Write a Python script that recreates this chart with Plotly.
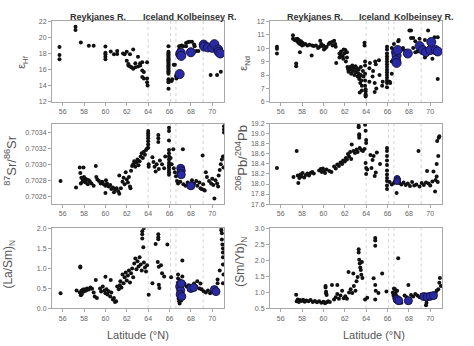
import plotly.graph_objects as go

# ---------------- data (latitude °N, value) ----------------
hf_lat = [55.7, 55.7, 55.7, 57.2, 57.2, 57.7, 58.45, 58.9,
          60.0, 60.0, 60.0, 60.0, 60.0, 60.5, 60.8, 61.1, 61.1, 61.65, 61.8, 62.0, 62.0,
          62.15, 62.15, 62.3, 62.3, 62.45, 62.6, 62.6, 62.8, 62.8, 63.05, 63.05, 63.25, 63.25,
          63.45, 63.45, 63.45, 63.6, 63.6, 63.9, 63.9, 63.9, 63.95,
          65.9, 65.9, 65.9, 65.9, 65.9, 65.9, 65.9, 65.9, 65.9, 65.9, 65.9, 65.9,
          65.9, 65.9, 65.9, 65.9, 65.9, 65.9, 65.9, 65.9, 65.9, 65.9, 65.9, 65.9,
          66.2, 66.25, 66.4, 66.5, 66.6, 66.65, 66.9, 66.9, 67.1, 67.15, 67.3, 67.55, 67.55,
          67.7, 67.85, 68.1, 68.3, 68.35, 68.5, 68.7, 68.95, 69.85, 70.45, 70.8, 70.2]
hf_val = [18.8, 17.8, 17.3, 21.3, 20.9, 19.35, 18.95, 18.95,
          18.85, 18.1, 17.9, 17.6, 17.3, 18.25, 17.9, 18.3, 17.95, 18.0, 17.9, 18.2, 17.1,
          16.7, 16.5, 17.9, 16.4, 16.3, 18.5, 16.1, 16.8, 16.3, 17.6, 16.4, 16.8, 16.5,
          16.9, 15.9, 15.1, 15.7, 14.9, 16.9, 14.9, 14.45, 14.05,
          18.9, 18.2, 18.05, 17.9, 17.75, 17.6, 17.45, 17.3, 17.15, 17.0, 16.85, 16.7,
          16.55, 16.4, 16.25, 16.1, 15.95, 15.8, 15.65, 15.5, 14.8, 14.6, 14.45, 13.65,
          14.6, 14.8, 16.6, 16.6, 15.2, 14.9, 18.9, 18.5, 18.95, 19.0, 18.9, 19.3, 18.9,
          19.4, 19.45, 19.45, 19.1, 18.9, 18.3, 18.3, 18.95, 15.35, 15.35, 15.75, 18.6]
hf_blue_lat = [66.95, 67.0, 67.05, 67.1, 68.0, 69.2, 69.25, 69.6, 70.0, 70.2, 70.55, 70.6, 70.75]
hf_blue_val = [15.45, 17.9, 18.1, 17.7, 18.15, 19.1, 18.85, 18.75, 18.7, 19.15, 18.5, 18.2, 18.0]

nd_lat = [55.65, 55.65, 55.65, 57.15, 57.15, 57.45, 57.45,
          57.3, 57.4, 57.5, 57.55, 57.6, 57.65, 57.7, 57.8, 57.8, 57.9, 57.95, 58.0, 58.05, 58.15,
          58.3, 58.5, 58.7, 58.9, 58.95, 59.1, 59.3, 59.5, 59.65, 59.7, 59.8, 59.9, 60.0, 60.05,
          60.2, 60.3, 60.5, 60.6, 60.8, 60.85, 61.0, 61.1, 61.15,
          61.2, 61.5, 61.5, 61.6, 61.65, 61.8, 61.85, 61.9, 61.95, 62.05, 62.1, 62.2, 62.2, 62.25,
          62.3, 62.35, 62.5, 62.55, 62.6, 62.7, 62.75, 62.8, 62.9, 62.95, 63.0, 63.1, 63.15, 63.2,
          63.3, 63.3, 63.35, 63.4, 63.4, 63.45, 63.5, 63.5, 63.55, 63.6, 63.6, 63.7, 63.75,
          63.85, 63.85, 63.9, 63.9, 63.9, 63.9, 63.9, 63.95, 63.95, 63.95, 63.95, 63.95,
          64.3, 64.3, 64.35, 64.6, 64.65, 64.8, 64.8, 64.85, 64.9, 64.95, 65.2, 65.25, 65.5, 65.55,
          65.95, 65.95, 65.95, 65.95, 65.95, 65.95, 65.95, 65.95, 65.95, 65.95, 65.95, 65.95,
          65.95, 65.95, 65.95,
          66.2, 66.25, 66.4, 66.4, 66.4, 66.6, 66.6, 66.65, 67.0, 67.05, 67.4, 67.45, 67.7,
          68.05, 68.2, 68.2, 68.4, 68.4, 68.6, 68.6, 68.8, 69.0, 69.5, 69.5, 69.8, 70.2, 70.2,
          70.4, 70.7, 70.7]
nd_val = [10.1, 9.95, 9.6, 10.95, 10.7, 8.85, 8.65,
          10.6, 10.65, 10.55, 10.7, 10.5, 10.4, 10.6, 10.3, 9.7, 10.5, 10.35, 10.2, 10.4, 10.25,
          10.3, 10.2, 10.25, 9.45, 10.2, 10.15, 10.2, 10.0, 10.1, 10.55, 10.3, 10.15, 10.2, 9.9,
          10.0, 10.1, 10.3, 10.4, 10.45, 10.2, 10.55, 10.3, 10.1,
          8.9, 9.3, 9.6, 9.5, 9.75, 9.4, 9.2, 9.9, 9.6, 9.85, 9.0, 9.7, 9.3, 8.6,
          8.45, 8.25, 8.6, 8.4, 8.1, 8.7, 8.3, 8.55, 8.0, 8.3, 8.65, 8.2, 8.5, 7.9,
          8.4, 8.1, 7.7, 7.9, 6.7, 7.4, 8.6, 8.0, 7.6, 6.85, 7.2, 8.3, 7.9,
          10.4, 10.2, 9.0, 8.7, 8.1, 7.6, 7.2, 6.95, 6.8, 6.6, 6.5, 6.4,
          8.5, 7.5, 8.9, 7.9, 8.3, 6.75, 7.4, 9.0, 8.8, 7.0, 9.1, 8.0, 7.2, 7.5,
          10.1, 9.9, 9.6, 9.4, 9.2, 9.0, 8.8, 8.6, 8.4, 8.2, 8.0, 7.8,
          7.6, 7.4, 7.1,
          7.5, 7.4, 10.0, 9.0, 8.1, 10.3, 9.6, 9.9, 10.5, 10.6, 9.9, 10.0, 9.8,
          11.3, 11.3, 10.75, 10.75, 10.0, 9.7, 10.5, 9.75, 10.7, 10.6, 9.3, 11.3, 10.6, 9.2,
          10.8, 10.8, 7.7]
nd_blue_lat = [66.8, 66.85, 66.8, 66.85, 66.95, 67.9, 69.0, 69.3, 69.6, 70.0, 70.1, 70.5, 70.7]
nd_blue_val = [9.7, 9.45, 9.1, 8.9, 9.85, 9.6, 10.15, 9.85, 9.7, 9.85, 10.45, 9.85, 9.75]

sr_lat = [55.8, 57.25,
          57.6, 57.65, 57.7, 57.75, 57.85, 57.9, 57.95, 58.0, 58.05, 58.1, 58.15, 58.25, 58.35,
          58.45, 58.55, 58.7, 58.9,
          59.1, 59.15, 59.25, 59.4, 59.55, 59.7, 59.85, 60.0, 60.0, 60.05, 60.15, 60.3, 60.45,
          60.55, 60.7, 60.8, 60.9, 61.05, 61.2, 61.3, 61.3, 61.45,
          61.6, 61.7, 61.8, 61.9, 62.0, 62.1, 62.2, 62.3, 62.35, 62.4, 62.5,
          62.6, 62.7, 62.8, 62.9, 63.0, 63.1, 63.2, 63.3, 63.4, 63.5, 63.6, 63.7, 63.8, 63.9,
          64.0, 64.0, 64.0, 64.0, 64.0, 64.0, 64.0, 64.05, 64.05,
          64.4, 64.5, 64.6, 64.7, 64.8, 64.95, 64.95, 64.95, 65.0, 65.1, 65.3, 65.5, 65.6,
          65.95, 65.95, 65.95, 65.95, 65.95, 65.95, 65.95, 65.95, 65.95, 65.95, 65.95, 65.95, 65.95,
          66.1, 66.2, 66.35, 66.4, 66.5, 66.6, 66.7, 66.8, 67.0, 67.25, 67.3, 67.5, 67.7,
          68.1, 68.3, 68.5, 68.6, 68.8, 68.9, 69.0, 69.1, 69.15, 69.2, 69.3,
          69.4, 69.5, 69.7, 69.9, 70.0, 70.1, 70.2, 70.3, 70.45, 70.55, 70.6, 70.7, 70.8, 70.9,
          71.0, 71.05, 71.1, 71.1, 71.1]
sr_val = [0.70279, 0.70271,
          0.70296, 0.70289, 0.70276, 0.70283, 0.70278, 0.70281, 0.70296, 0.70284, 0.70279, 0.70282,
          0.70277, 0.70281, 0.70275, 0.70280, 0.70278, 0.70276, 0.70273,
          0.70298, 0.70284, 0.70281, 0.70279, 0.70276, 0.70278, 0.70275, 0.70273, 0.70264, 0.70280,
          0.70276, 0.70272, 0.70274, 0.70269, 0.70271, 0.70265, 0.70268, 0.70270, 0.70266, 0.70263,
          0.70286, 0.70270,
          0.70278, 0.70283, 0.70275, 0.70290, 0.70281, 0.70277, 0.70284, 0.70272, 0.70270, 0.70292,
          0.70298,
          0.70300, 0.70304, 0.70297, 0.70302, 0.70306, 0.70299, 0.70304, 0.70310, 0.70314, 0.70308,
          0.70316, 0.70312, 0.70318, 0.70320,
          0.70342, 0.70339, 0.70336, 0.70333, 0.70329, 0.70325, 0.70321, 0.70300, 0.70297,
          0.70309, 0.70303, 0.70297, 0.70291, 0.70300, 0.70337, 0.70333, 0.70328, 0.70294, 0.70305,
          0.70300, 0.70295, 0.70310,
          0.70346, 0.70342, 0.70330, 0.70318, 0.70314, 0.70310, 0.70306, 0.70302, 0.70299, 0.70296,
          0.70293, 0.70290, 0.70287,
          0.70308, 0.70300, 0.70319, 0.70295, 0.70290, 0.70285, 0.70279, 0.70276, 0.70278, 0.70319,
          0.70275, 0.70273, 0.70277,
          0.70280, 0.70276, 0.70279, 0.70273, 0.70277, 0.70270, 0.70269, 0.70311, 0.70275, 0.70268,
          0.70267,
          0.70290, 0.70284, 0.70279, 0.70276, 0.70282, 0.70274, 0.70257, 0.70280, 0.70276, 0.70272,
          0.70286, 0.70293, 0.70300, 0.70306, 0.70310, 0.70296, 0.70348, 0.70344, 0.70340]
sr_blue_lat = [67.05, 67.1, 67.05, 67.1, 68.0]
sr_blue_val = [0.70295, 0.70292, 0.70289, 0.70287, 0.70273]

pb_lat = [55.65,
          57.2, 57.5, 57.65, 57.6, 57.75, 57.85, 57.95, 58.05, 58.2, 58.35, 58.5, 58.65, 58.8,
          58.95, 59.1,
          59.6, 59.75, 59.85, 59.95, 60.05, 60.15, 60.3, 60.55, 60.75,
          61.0, 61.15, 61.3, 61.45, 61.6, 61.75, 61.85, 62.0, 62.1, 62.2,
          62.3, 62.4, 62.5, 62.6, 62.65, 62.8, 62.95, 63.1, 63.2,
          63.3, 63.3, 63.35, 63.35, 63.35, 63.4, 63.55, 63.7, 63.85, 63.9, 63.95, 64.0, 64.0,
          63.95, 64.0, 64.0, 64.1,
          64.4, 64.5, 64.6, 64.7, 64.8, 64.9, 65.0, 65.3,
          65.95, 65.95, 65.95, 65.95, 65.95, 65.95, 65.95, 65.95, 65.95, 65.95, 65.95,
          66.2, 66.4, 66.6, 66.7, 66.85, 67.1, 67.3, 67.5, 67.7, 67.9, 68.1, 68.3, 68.5, 68.7,
          68.9, 69.0, 69.2, 69.4, 69.6, 69.7, 69.85, 70.0, 70.2, 70.3, 70.45, 70.5, 70.6, 70.6,
          70.65, 70.7, 70.75, 70.8, 70.85]
pb_val = [18.32,
          18.14, 18.66, 18.02, 18.17, 18.12, 18.19, 18.15, 18.22, 18.13, 18.18, 18.21, 18.17, 18.22,
          18.24, 18.21,
          18.27, 18.30, 18.24, 18.31, 18.27, 18.22, 18.29, 18.26, 18.24,
          18.35, 18.31, 18.39, 18.36, 18.43, 18.40, 18.47, 18.45, 18.52, 18.49,
          18.60, 18.55, 18.64, 18.50, 18.79, 18.66, 18.62, 18.69, 18.64,
          19.16, 19.13, 18.99, 18.96, 18.92, 18.72, 18.68, 18.66, 18.70, 19.18, 19.06, 18.88, 18.82,
          18.42, 18.32, 18.20, 18.29,
          18.58, 18.32, 18.48, 18.56, 18.16, 18.23, 18.63, 18.40,
          18.72, 18.66, 18.56, 18.47, 18.38, 18.27, 18.19, 18.12, 18.06, 17.97, 17.90,
          18.04, 17.99, 18.02, 18.06, 17.82, 18.02, 17.99, 18.03, 17.98, 18.01, 17.96, 18.04, 17.97,
          17.99,
          18.66, 17.95, 18.02, 17.98, 18.03, 18.26, 18.01, 17.97, 18.05, 18.25, 17.85, 18.08, 18.15,
          18.40, 18.86, 18.04, 18.56, 18.92, 18.95]
pb_blue_lat = [66.9, 66.95, 66.9]
pb_blue_val = [18.11, 18.08, 18.05]

la_lat = [55.8, 57.3, 57.65, 57.65,
          57.6, 57.7, 57.75, 57.8, 57.9, 58.0, 58.1, 58.2, 58.3, 58.45, 58.6, 58.75, 58.9, 59.0,
          59.1, 59.2,
          59.5, 59.6, 59.75, 59.9, 60.0, 60.0, 60.1, 60.2, 60.3, 60.45, 60.5, 60.55, 60.7, 60.8,
          60.9, 61.0,
          61.1, 61.25, 61.35, 61.4, 61.5, 61.6, 61.7, 61.8, 61.9, 62.0, 62.1, 62.2, 62.3, 62.4,
          62.5, 62.6,
          62.7, 62.8, 62.9, 63.0, 63.1, 63.2, 63.3, 63.4, 63.45, 63.45, 63.45, 63.55, 63.6, 63.6,
          63.7, 63.8, 63.9,
          64.05, 64.4, 64.7, 64.9, 64.95, 64.95, 64.95, 65.0, 65.0, 65.05, 65.2, 65.3, 65.5, 65.8,
          66.15,
          66.8, 66.8, 66.8, 66.85, 66.85, 66.85, 66.85, 66.9, 66.95, 67.0, 67.1, 67.2, 67.2,
          67.4, 67.6, 67.8, 68.3, 68.5, 68.6, 68.8, 68.9, 69.0, 69.2, 69.4, 69.6, 69.8, 70.0,
          70.3, 70.5, 70.5,
          70.7, 70.85, 70.85, 70.9, 70.9, 70.95, 71.0, 71.0, 71.0, 71.0, 71.05, 71.0]
la_val = [0.38, 0.45, 1.05, 1.02,
          0.40, 0.33, 0.44, 0.36, 0.47, 0.42, 0.48, 0.45, 0.50, 0.47, 0.52, 0.49, 0.40, 0.30,
          0.71, 0.26,
          0.50, 0.42, 0.55, 0.45, 0.79, 0.38, 0.48, 0.35, 0.43, 0.30, 0.71, 0.40, 0.22, 0.26,
          0.16, 0.18,
          0.55, 0.48, 0.58, 0.68, 0.52, 0.85, 0.63, 0.78, 0.90, 0.70, 0.82, 0.95, 0.65, 0.88,
          1.00, 0.78,
          1.12, 1.25, 0.98, 1.18, 1.05, 1.28, 1.10, 0.95, 1.93, 1.85, 1.75, 1.53, 2.00, 1.15,
          1.02, 0.92, 1.08,
          0.34, 0.63, 1.61, 1.16, 1.85, 1.78, 1.73, 1.04, 0.59, 0.51, 1.08, 0.88, 0.80, 1.60,
          0.78,
          0.85, 0.75, 0.65, 0.50, 0.40, 0.32, 0.25, 0.18, 0.12, 0.70, 0.20, 1.20, 0.80,
          0.62, 0.55, 0.58, 0.62, 0.55, 0.68, 0.50, 0.62, 0.48, 0.43, 0.40, 0.45, 0.38, 0.42,
          0.50, 0.72, 0.63,
          0.95, 2.00, 1.95, 1.88, 1.72, 1.60, 1.50, 1.40, 1.28, 1.10, 0.85, 0.63]
la_blue_lat = [66.95, 67.05, 67.1, 67.0, 67.15, 68.0, 68.25, 70.2, 70.35]
la_blue_val = [0.55, 0.45, 0.62, 0.35, 0.30, 0.50, 0.52, 0.47, 0.42]

sm_lat = [57.45, 57.5, 57.6, 57.7, 57.8, 57.95, 58.1, 58.25, 58.4, 58.6, 58.8, 59.0, 59.2,
          59.4, 59.6, 59.8, 60.0, 60.15, 60.3, 60.45, 60.6,
          60.2, 60.2, 60.25, 60.25, 60.3, 60.8, 61.3,
          61.0, 61.15, 61.3, 61.45, 61.6, 61.75, 61.9, 62.05, 62.2,
          62.35, 62.4, 62.55, 62.7, 62.8, 62.85, 63.0, 63.1, 63.2, 63.3, 63.3, 63.35, 63.4,
          63.45, 63.5, 63.55, 63.6, 63.65,
          63.9, 64.1, 64.7, 64.85, 64.85, 64.85, 64.85, 64.9, 64.85, 65.15, 65.5, 65.9,
          66.5, 66.55, 66.6, 66.6, 66.65, 66.7, 66.75, 66.8, 66.85, 66.9, 66.95, 66.6, 66.7,
          67.0, 67.1, 67.3,
          67.6, 67.8, 67.95, 68.2, 68.4, 68.6, 68.8, 69.0, 69.2, 69.4, 69.6, 69.65, 69.8, 70.1,
          70.3, 70.5, 70.6, 70.75, 70.85, 70.9, 71.0]
sm_val = [0.93, 0.72, 0.78, 0.70, 0.76, 0.73, 0.77, 0.71, 0.75, 0.72, 0.76, 0.70, 0.73,
          0.69, 0.72, 0.68, 0.71, 0.66, 0.69, 0.72, 0.70,
          1.20, 1.15, 1.02, 0.97, 0.92, 1.23, 1.23,
          0.78, 0.85, 0.95, 0.80, 0.90, 1.05, 0.82, 0.88, 0.80,
          1.64, 1.00, 1.10, 0.98, 1.59, 1.20, 1.05, 1.35, 1.48, 2.35, 2.25, 2.02, 1.90,
          1.78, 1.70, 1.55, 1.95, 1.45,
          0.78, 0.83, 1.44, 2.70, 2.62, 2.46, 1.23, 1.05, 0.78, 0.98, 1.59, 1.03,
          1.00, 0.92, 0.95, 0.88, 0.82, 1.10, 0.98, 0.90, 0.85, 1.05, 0.80, 1.12, 0.86,
          2.07, 0.72, 0.68,
          0.90, 0.85, 1.23, 0.92, 0.87, 0.95, 0.90, 0.85, 0.93, 0.84, 0.60, 0.68, 0.88, 0.82,
          0.93, 0.98, 1.05, 1.10, 1.30, 1.45, 1.20]
sm_blue_lat = [66.9, 67.05, 67.95, 69.4, 69.7, 70.0, 70.3]
sm_blue_val = [0.78, 0.74, 0.74, 0.87, 0.86, 0.88, 0.90]

x_ticks = [56, 58, 60, 62, 64, 66, 68, 70]
boundary_lats = [64.0, 66.1, 66.6, 69.15]

# ---------------- layout geometry (px in a 474x346 canvas) ----------------
W, H = 474, 346
left_x = (52, 224)
right_x = (270, 442)
rows_y = [(17.5, 100), (122.3, 204.2), (229, 310.7)]


def xdom(px):
    return [px[0] / W, px[1] / W]


def ydom(py):
    return [1 - py[1] / H, 1 - py[0] / H]


panels = [
    # (lat, val, blue_lat, blue_val, col, row, yrange, ytickvals, yfmt, blue size)
    (hf_lat, hf_val, hf_blue_lat, hf_blue_val, 0, 0, [12, 22], [12, 14, 16, 18, 20, 22], "d", 9),
    (nd_lat, nd_val, nd_blue_lat, nd_blue_val, 1, 0, [6, 12], [6, 7, 8, 9, 10, 11, 12], "d", 9),
    (sr_lat, sr_val, sr_blue_lat, sr_blue_val, 0, 1, [0.7025, 0.70351],
     [0.7026, 0.7028, 0.7030, 0.7032, 0.7034], ".4f", 8),
    (pb_lat, pb_val, pb_blue_lat, pb_blue_val, 1, 1, [17.6, 19.2],
     [17.6, 17.8, 18.0, 18.2, 18.4, 18.6, 18.8, 19.0, 19.2], ".1f", 6),
    (la_lat, la_val, la_blue_lat, la_blue_val, 0, 2, [0, 2.0], [0, 0.5, 1.0, 1.5, 2.0], ".1f", 8),
    (sm_lat, sm_val, sm_blue_lat, sm_blue_val, 1, 2, [0.5, 3.0],
     [0.5, 1.0, 1.5, 2.0, 2.5, 3.0], ".1f", 8),
]

FONT = "Liberation Sans, Arial, sans-serif"
fig = go.Figure()
shapes = []
for i, (lat, val, blat, bval, col, row, yr, ytv, yfmt, bsize) in enumerate(panels):
    n = i + 1
    xa = "x" if n == 1 else f"x{n}"
    ya = "y" if n == 1 else f"y{n}"
    fig.add_trace(go.Scatter(x=lat, y=val, mode="markers", xaxis=xa, yaxis=ya,
                             marker=dict(size=4, color="#111111"), showlegend=False))
    fig.add_trace(go.Scatter(x=blat, y=bval, mode="markers", xaxis=xa, yaxis=ya,
                             marker=dict(size=bsize, color="#2a2aa6",
                                         line=dict(color="#15153f", width=1)),
                             showlegend=False))
    axis_common = dict(showline=True, linecolor="#a8a8a8", linewidth=1, mirror=True,
                       ticks="outside", ticklen=3, tickcolor="#a8a8a8", showgrid=False,
                       zeroline=False, tickfont=dict(family=FONT, size=7, color="#666666"))
    fig.layout[f"xaxis{'' if n == 1 else n}"] = dict(
        domain=xdom(left_x if col == 0 else right_x), range=[55, 71.1],
        tickvals=x_ticks, anchor=ya, **axis_common)
    fig.layout[f"yaxis{'' if n == 1 else n}"] = dict(
        domain=ydom(rows_y[row]), range=yr, tickvals=ytv, tickformat=yfmt,
        anchor=xa, **axis_common)
    for b in boundary_lats:
        shapes.append(dict(type="line", xref=xa, yref=f"{ya} domain", x0=b, x1=b, y0=0, y1=1,
                           line=dict(color="#d2d2d2", width=1, dash="dot"), layer="below"))

annotations = []
# region labels above the top panels
for (txt, px) in [("Reykjanes R.", 98), ("Iceland", 158), ("Kolbeinsey R.", 207),
                  ("Reykjanes R.", 314.5), ("Iceland", 374.5), ("Kolbeinsey R.", 424)]:
    annotations.append(dict(text=f"<b>{txt}</b>", x=px / W, y=1 - 13.5 / H, xref="paper",
                            yref="paper", showarrow=False, xanchor="center", yanchor="middle",
                            font=dict(family=FONT, size=9, color="#333333")))

# y-axis titles
for (txt, px, py, fs) in [("ε<sub>Hf</sub>", 22, 60, 11),
                          ("ε<sub>Nd</sub>", 244, 61, 11),
                          ("<sup>87</sup>Sr/<sup>86</sup>Sr", 10, 160, 13),
                          ("<sup>206</sup>Pb/<sup>204</sup>Pb", 241, 157, 13),
                          ("(La/Sm)<sub>N</sub>", 9, 266, 12),
                          ("(Sm/Yb)<sub>N</sub>", 241, 263, 12)]:
    annotations.append(dict(text=txt, x=px / W, y=1 - py / H, xref="paper", yref="paper",
                            showarrow=False, textangle=-90, xanchor="center",
                            yanchor="middle", font=dict(family=FONT, size=fs, color="#555555")))

# x-axis titles
for px in [138, 374]:
    annotations.append(dict(text="Latitude (°N)", x=px / W, y=1 - 338 / H, xref="paper",
                            yref="paper", showarrow=False, xanchor="center", yanchor="middle",
                            font=dict(family=FONT, size=11, color="#555555")))

fig.update_layout(width=W, height=H, margin=dict(l=0, r=0, t=0, b=0),
                  paper_bgcolor="white", plot_bgcolor="white",
                  shapes=shapes, annotations=annotations)

fig.write_html("out.html")
